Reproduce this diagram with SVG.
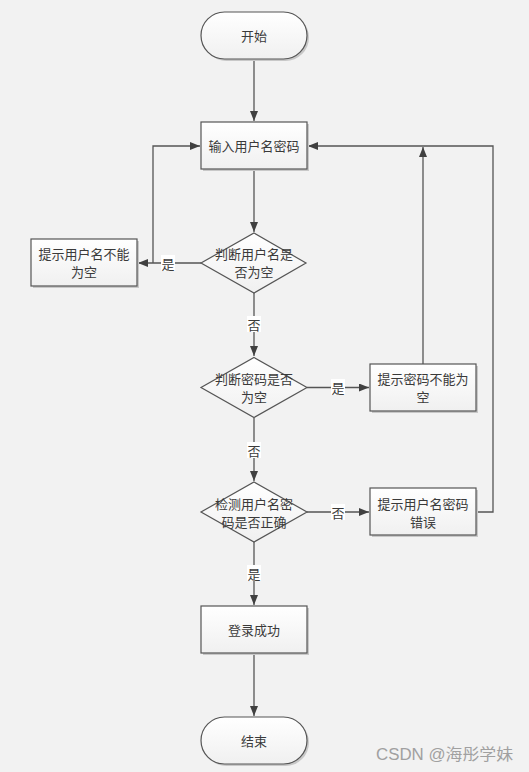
<svg xmlns="http://www.w3.org/2000/svg" width="529" height="772" viewBox="0 0 529 772">
<defs>
<linearGradient id="g" x1="0" y1="0" x2="0" y2="1">
<stop offset="0" stop-color="#ffffff"/>
<stop offset="1" stop-color="#f0f0f0"/>
</linearGradient>
<marker id="arr" markerWidth="10" markerHeight="8" refX="10" refY="4" orient="auto" markerUnits="userSpaceOnUse">
<path d="M0,0 L10,4 L0,8 Z" fill="#404040"/>
</marker>
</defs>
<style>
.shape{fill:url(#g);stroke:#555555;stroke-width:1.2}
.shadow{fill:#c8c8c8;stroke:none}
.t{font-family:"Noto Sans CJK SC","Liberation Serif",serif;font-size:13px;fill:#3a3a3a;text-anchor:middle;dominant-baseline:central}
.c{fill:none;stroke:#555555;stroke-width:1.3}
.lb{fill:#ffffff}
.wm{font-family:"Liberation Sans","Noto Sans CJK SC",sans-serif;font-size:16px;fill:#a0a0a0}
</style>
<rect width="529" height="772" fill="#f2f2f2"/>

<g id="connectors">
<path class="c" d="M254 59 V121" marker-end="url(#arr)"/>
<path class="c" d="M254 169 V232" marker-end="url(#arr)"/>
<path class="c" d="M201 263 H138" marker-end="url(#arr)"/>
<path class="c" d="M153 263 V146 H200" marker-end="url(#arr)"/>
<path class="c" d="M254 293 V356" marker-end="url(#arr)"/>
<path class="c" d="M307 387.5 H369" marker-end="url(#arr)"/>
<path class="c" d="M423 364 V147" marker-end="url(#arr)"/>
<path class="c" d="M254 418 V481" marker-end="url(#arr)"/>
<path class="c" d="M307 512 H369" marker-end="url(#arr)"/>
<path class="c" d="M477 512 H493 V146 H308" marker-end="url(#arr)"/>
<path class="c" d="M254 542 V605" marker-end="url(#arr)"/>
<path class="c" d="M254 653 V716" marker-end="url(#arr)"/>
<rect class="lb" x="161" y="255" width="14" height="16"/>
<text class="t" x="168" y="263">是</text>
<rect class="lb" x="247" y="316" width="14" height="16"/>
<text class="t" x="254" y="324">否</text>
<rect class="lb" x="331" y="379" width="14" height="16"/>
<text class="t" x="338" y="387">是</text>
<rect class="lb" x="247" y="442" width="14" height="16"/>
<text class="t" x="254" y="450">否</text>
<rect class="lb" x="331" y="504" width="14" height="16"/>
<text class="t" x="338" y="512">否</text>
<rect class="lb" x="247" y="565" width="14" height="16"/>
<text class="t" x="254" y="573">是</text>
</g>

<g id="start">
<rect class="shadow" x="203" y="14" width="106" height="47" rx="23.5"/>
<rect class="shape" x="201" y="12" width="106" height="47" rx="23.5"/>
<text class="t" x="254" y="35.5">开始</text>
</g>

<g id="input">
<rect class="shadow" x="203" y="124" width="106" height="47"/>
<rect class="shape" x="201" y="122" width="106" height="47"/>
<text class="t" x="254" y="145.5">输入用户名密码</text>
</g>

<g id="check-user">
<path class="shape" d="M254 233 L306 263 L254 293 L201 263 Z"/>
<text class="t" x="254" y="253">判断用户名是</text>
<text class="t" x="254" y="271">否为空</text>
</g>

<g id="user-empty">
<rect class="shadow" x="33" y="241" width="106" height="47"/>
<rect class="shape" x="31" y="239" width="106" height="47"/>
<text class="t" x="84" y="253">提示用户名不能</text>
<text class="t" x="84" y="271">为空</text>
</g>

<g id="check-pass">
<path class="shape" d="M254 357.5 L307 387.5 L254 417.5 L201 387.5 Z"/>
<text class="t" x="254" y="378">判断密码是否</text>
<text class="t" x="254" y="396.5">为空</text>
</g>

<g id="pass-empty">
<rect class="shadow" x="372" y="366" width="106" height="47"/>
<rect class="shape" x="370" y="364" width="106" height="47"/>
<text class="t" x="423" y="378">提示密码不能为</text>
<text class="t" x="423" y="396.5">空</text>
</g>

<g id="verify">
<path class="shape" d="M254 482 L307 512 L254 542 L201 512 Z"/>
<text class="t" x="254" y="503">检测用户名密</text>
<text class="t" x="254" y="521">码是否正确</text>
</g>

<g id="wrong">
<rect class="shadow" x="372" y="490" width="106" height="47"/>
<rect class="shape" x="370" y="488" width="106" height="47"/>
<text class="t" x="423" y="503">提示用户名密码</text>
<text class="t" x="423" y="521">错误</text>
</g>

<g id="success">
<rect class="shadow" x="203" y="608" width="106" height="47"/>
<rect class="shape" x="201" y="606" width="106" height="47"/>
<text class="t" x="254" y="629.5">登录成功</text>
</g>

<g id="end">
<rect class="shadow" x="203" y="719" width="106" height="47" rx="23.5"/>
<rect class="shape" x="201" y="717" width="106" height="47" rx="23.5"/>
<text class="t" x="254" y="740.5">结束</text>
</g>

<text class="wm" x="376" y="760" textLength="137" lengthAdjust="spacingAndGlyphs">CSDN @海彤学妹</text>
</svg>
